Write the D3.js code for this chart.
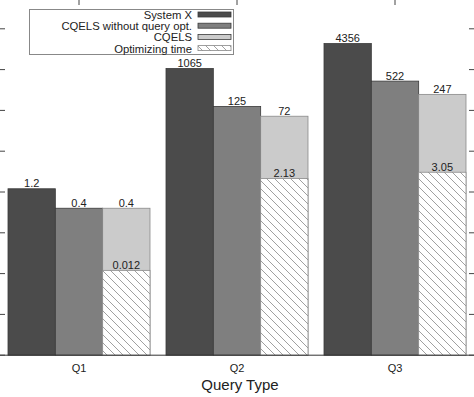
<!DOCTYPE html>
<html>
<head>
<meta charset="utf-8">
<script src="https://cdn.jsdelivr.net/npm/d3@7"></script>
<style>
  body { margin: 0; background: #fff; }
  svg { display: block; font-family: "Liberation Sans", Arial, sans-serif; }
</style>
</head>
<body>
<div id="chart"></div>
<script>
// Data
const categories = ["Q1", "Q2", "Q3"];
const seriesNames = ["System X", "CQELS without query opt.", "CQELS"];
const systemX = [1.2, 1065, 4356];
const cqelsNoOpt = [0.4, 125, 522];
const cqels = [0.4, 72, 247];
const optTime = [0.012, 2.13, 3.05];
const valueLabels = [["1.2", "1065", "4356"], ["0.4", "125", "522"], ["0.4", "72", "247"]];
const optLabels = ["0.012", "2.13", "3.05"];
const yTicks = [1e-4, 1e-3, 1e-2, 1e-1, 1, 10, 100, 1000, 10000, 100000];
const colors = ["#4b4b4b", "#7f7f7f", "#cbcbcb"];

const W = 474, H = 397;
const svg = d3.select("#chart").append("svg")
    .attr("width", W)
    .attr("height", H);

// hatch pattern
const defs = svg.append("defs");
const pat = defs.append("pattern")
    .attr("id", "hatch")
    .attr("patternUnits", "userSpaceOnUse")
    .attr("width", 8)
    .attr("height", 8);
pat.append("rect").attr("width", 8).attr("height", 8).attr("fill", "#fff");
pat.append("path")
    .attr("d", "M-2,-2L10,10M-2,6L2,10M6,-2L10,2")
    .attr("stroke", "#888")
    .attr("stroke-width", 0.8);

// scales
const x0 = d3.scaleBand()
    .domain(categories)
    .range([0, W])
    .paddingInner(16 / 158)
    .paddingOuter(8 / 158);
const x1 = d3.scaleBand()
    .domain(seriesNames)
    .range([0, x0.bandwidth()]);
const y = d3.scaleLog()
    .domain([1e-4, 1e5])
    .range([355.2, -12]);

const values = [systemX, cqelsNoOpt, cqels];

// bars
values.forEach((vals, si) => {
  svg.append("g").selectAll("rect")
    .data(categories)
    .join("rect")
      .attr("x", (c) => x0(c) + x1(seriesNames[si]))
      .attr("y", (c, i) => y(vals[i]))
      .attr("width", x1.bandwidth())
      .attr("height", (c, i) => y(1e-4) - y(vals[i]))
      .attr("fill", colors[si])
      .attr("stroke", si === 2 ? "#8a8a8a" : "#3a3a3a")
      .attr("stroke-width", 0.8);
});

// optimizing time (overlay on CQELS bar)
svg.append("g").selectAll("rect")
  .data(categories)
  .join("rect")
    .attr("x", (c) => x0(c) + x1("CQELS"))
    .attr("y", (c, i) => y(optTime[i]))
    .attr("width", x1.bandwidth())
    .attr("height", (c, i) => y(1e-4) - y(optTime[i]))
    .attr("fill", "url(#hatch)")
    .attr("stroke", "#8a8a8a")
    .attr("stroke-width", 0.8);

// value labels
values.forEach((vals, si) => {
  svg.append("g").selectAll("text")
    .data(categories)
    .join("text")
      .attr("x", (c) => x0(c) + x1(seriesNames[si]) + x1.bandwidth() / 2)
      .attr("y", (c, i) => y(vals[i]) - 1.5)
      .attr("text-anchor", "middle")
      .attr("font-size", 11)
      .attr("fill", "#222")
      .text((c, i) => valueLabels[si][i]);
});
svg.append("g").selectAll("text")
  .data(categories)
  .join("text")
    .attr("x", (c) => x0(c) + x1("CQELS") + x1.bandwidth() / 2)
    .attr("y", (c, i) => y(optTime[i]) - 1.5)
    .attr("text-anchor", "middle")
    .attr("font-size", 11)
    .attr("fill", "#222")
    .text((c, i) => optLabels[i]);

// axes
svg.append("line")
    .attr("x1", 0).attr("x2", W)
    .attr("y1", y(1e-4)).attr("y2", y(1e-4))
    .attr("stroke", "#333").attr("stroke-width", 1);

// left ticks (inward)
svg.append("g").selectAll("line")
  .data(yTicks)
  .join("line")
    .attr("x1", 0).attr("x2", 5)
    .attr("y1", (d) => y(d)).attr("y2", (d) => y(d))
    .attr("stroke", "#444");
// right ticks (inward)
svg.append("g").selectAll("line")
  .data(yTicks)
  .join("line")
    .attr("x1", W - 5).attr("x2", W)
    .attr("y1", (d) => y(d)).attr("y2", (d) => y(d))
    .attr("stroke", "#444");
// top ticks at category centers
svg.append("g").selectAll("line")
  .data(categories)
  .join("line")
    .attr("x1", (c) => x0(c) + x0.bandwidth() / 2)
    .attr("x2", (c) => x0(c) + x0.bandwidth() / 2)
    .attr("y1", 0).attr("y2", 5)
    .attr("stroke", "#444");

// category labels
svg.append("g").selectAll("text")
  .data(categories)
  .join("text")
    .attr("x", (c) => x0(c) + x0.bandwidth() / 2)
    .attr("y", 372)
    .attr("text-anchor", "middle")
    .attr("font-size", 11)
    .attr("fill", "#222")
    .text((c) => c);

svg.append("text")
    .attr("x", W / 2 + 3)
    .attr("y", 390)
    .attr("text-anchor", "middle")
    .attr("font-size", 15)
    .attr("fill", "#222")
    .text("Query Type");

// legend
const legend = svg.append("g");
legend.append("rect")
    .attr("x", 29.5).attr("y", 9.5)
    .attr("width", 204).attr("height", 45)
    .attr("fill", "#fff")
    .attr("stroke", "#888");
const legendItems = seriesNames.concat(["Optimizing time"]);
legendItems.forEach((name, i) => {
  const ly = 17 + i * 11.2;
  legend.append("text")
      .attr("x", 192)
      .attr("y", ly + 2)
      .attr("text-anchor", "end")
      .attr("font-size", 11.3)
      .attr("fill", "#222")
      .text(name);
  legend.append("rect")
      .attr("x", 198).attr("y", ly - 5)
      .attr("width", 33).attr("height", 5)
      .attr("fill", i < 3 ? colors[i] : "url(#hatch)")
      .attr("stroke", i < 3 ? "#3a3a3a" : "#888")
      .attr("stroke-width", 0.8);
});
</script>
</body>
</html>
